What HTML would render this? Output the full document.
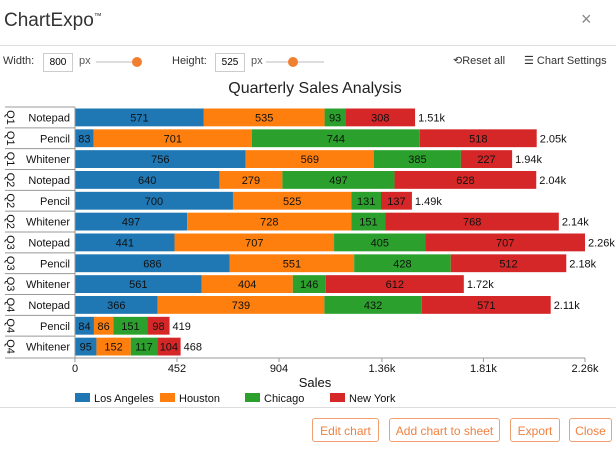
<!DOCTYPE html>
<html><head><meta charset="utf-8"><style>
body{margin:0;width:616px;height:459px;background:#fff;font-family:"Liberation Sans",sans-serif;overflow:hidden;position:relative}
.abs{position:absolute}
.btn{position:absolute;top:418px;height:24px;border:1px solid #f0a070;border-radius:3px;color:#f08040;font-size:12px;line-height:24px;text-align:center;box-sizing:border-box}
.inp{position:absolute;top:53px;width:28px;height:17px;border:1px solid #ccc;font-size:10px;line-height:17px;text-align:center}
</style></head><body>
<div class="abs" style="left:4px;top:10px;font-size:19px;color:#333">ChartExpo<sup style="font-size:8px">™</sup></div>
<div class="abs" style="left:581px;top:9px;font-size:18px;color:#888">×</div>
<div class="abs" style="left:0;top:45px;width:616px;height:1px;background:#ddd"></div>
<div class="abs" style="left:3px;top:55px;font-size:11px;color:#333">Width:</div>
<div class="inp" style="left:43px">800</div>
<div class="abs" style="left:79px;top:55px;font-size:11px;color:#555">px</div>
<div class="abs" style="left:96px;top:61px;width:42px;height:2px;background:#ddd"><div style="position:absolute;left:36px;top:-4px;width:10px;height:10px;border-radius:50%;background:#f08030"></div></div>
<div class="abs" style="left:172px;top:55px;font-size:11px;color:#333">Height:</div>
<div class="inp" style="left:215px">525</div>
<div class="abs" style="left:251px;top:55px;font-size:11px;color:#555">px</div>
<div class="abs" style="left:266px;top:61px;width:58px;height:2px;background:#ddd"><div style="position:absolute;left:22px;top:-4px;width:10px;height:10px;border-radius:50%;background:#f08030"></div></div>
<div class="abs" style="left:453px;top:54px;font-size:11px;color:#333">⟲Reset all</div>
<div class="abs" style="left:524px;top:54px;font-size:11px;color:#333">☰ Chart Settings</div>
<div class="abs" style="left:0;top:407px;width:616px;height:1px;background:#ddd"></div>
<div class="btn" style="left:312px;width:67px">Edit chart</div>
<div class="btn" style="left:389px;width:111px">Add chart to sheet</div>
<div class="btn" style="left:510px;width:50px">Export</div>
<div class="btn" style="left:569px;width:43px">Close</div>
<svg class="abs" style="left:0;top:0" width="616" height="459" id="chart"></svg>
<script>
const quarters=["Q1","Q1","Q1","Q2","Q2","Q2","Q3","Q3","Q3","Q4","Q4","Q4"];
const products=["Notepad","Pencil","Whitener","Notepad","Pencil","Whitener","Notepad","Pencil","Whitener","Notepad","Pencil","Whitener"];
const seriesNames=["Los Angeles","Houston","Chicago","New York"];
const colors=["#1f77b4","#ff7f0e","#2ca02c","#d62728"];
const losAngeles=[571,83,756,640,700,497,441,686,561,366,84,95];
const houston=[535,701,569,279,525,728,707,551,404,739,86,152];
const chicago=[93,744,385,497,131,151,405,428,146,432,151,117];
const newYork=[308,518,227,628,137,768,707,512,612,571,98,104];
const ticks=[0,452,904,1360,1810,2260];
const tickLabels=["0","452","904","1.36k","1.81k","2.26k"];
const series=[losAngeles,houston,chicago,newYork];
const svg=document.getElementById('chart');const NS="http://www.w3.org/2000/svg";
function mk(t,a,txt){const e=document.createElementNS(NS,t);for(const k in a)e.setAttribute(k,a[k]);if(txt!==undefined)e.textContent=txt;svg.appendChild(e);return e;}
const x0=75,x1=585,xMax=2260,yTop=107,band=250/12;
const xs=v=>x0+v*(x1-x0)/xMax;
const yb=i=>yTop+i*band;
let t=mk('text',{x:315,y:93,'text-anchor':'middle','font-size':16,fill:'#222'},'Quarterly Sales Analysis');

for(let i=0;i<quarters.length;i++){
  let acc=0;
  for(let s=0;s<series.length;s++){
    const v=series[s][i];
    const r=mk('rect',{x:xs(acc),y:yb(i)+1.5,width:xs(acc+v)-xs(acc),height:band-3,fill:colors[s]});
    
    
    const lb=mk('text',{x:(xs(acc)+xs(acc+v))/2,y:yb(i)+band/2+4,'text-anchor':'middle','font-size':11,fill:'#111'},String(v));
    
    
    acc+=v;
  }
  const tot=acc>=1000?(acc/1000).toFixed(2).replace(/0$/,'')+'k':String(acc);
  const tl=mk('text',{x:xs(acc)+3,y:yb(i)+band/2+4,'font-size':11,fill:'#111'},tot);
  
  
  const pl=mk('text',{x:70,y:yb(i)+band/2+4,'text-anchor':'end','font-size':11,fill:'#111'},products[i]);
  
  
  const cy=yb(i)+band/2;
  const ql=mk('text',{x:10,y:cy,'text-anchor':'middle','font-size':11,fill:'#111',transform:`rotate(90 10 ${cy})`,'dominant-baseline':'middle'},quarters[i]);
  
  
  const sep=mk('line',{x1:5,x2:75,y1:yb(i),y2:yb(i),stroke:'#999','stroke-width':1});
  
  
}
let yl=mk('line',{x1:75,x2:75,y1:yTop,y2:358,stroke:'#999'});
let xl=mk('line',{x1:5,x2:x1,y1:358,y2:358,stroke:'#999'});
for(let k=0;k<ticks.length;k++){
  const tk=mk('line',{x1:xs(ticks[k]),x2:xs(ticks[k]),y1:358,y2:362,stroke:'#999'});
  
  
  const tx=mk('text',{x:xs(ticks[k]),y:372,'text-anchor':'middle','font-size':11,fill:'#111'},tickLabels[k]);
  
  
}
let xt=mk('text',{x:315,y:387,'text-anchor':'middle','font-size':13,fill:'#111'},'Sales');

const legX=[75,160,245,330];
for(let s=0;s<seriesNames.length;s++){
  const lr=mk('rect',{x:legX[s],y:393,width:15,height:9,fill:colors[s]});
  
  
  const lt=mk('text',{x:legX[s]+19,y:402,'font-size':11,fill:'#111'},seriesNames[s]);
  
  
}
</script>
</body></html>
